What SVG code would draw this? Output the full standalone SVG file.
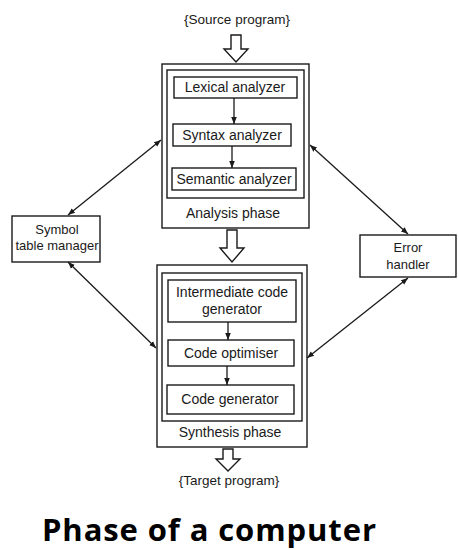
<svg xmlns="http://www.w3.org/2000/svg" width="459" height="550" viewBox="0 0 459 550">
<defs>
<marker id="ah" viewBox="0 0 10 10" refX="10" refY="5" markerWidth="7" markerHeight="7" orient="auto-start-reverse" markerUnits="userSpaceOnUse">
<path d="M0,1 L10,5 L0,9 z" fill="#1a1a1a"/>
</marker>
</defs>
<style>
.b{fill:none;stroke:#1a1a1a;stroke-width:1.4}
.t{font-family:"Liberation Sans",Arial,sans-serif;font-size:14px;fill:#1a1a1a;text-anchor:middle}
.s{font-size:13px}
.c{fill:none;stroke:#1a1a1a;stroke-width:1.3}
.h{fill:#fff;stroke:#1a1a1a;stroke-width:1.4;stroke-linejoin:miter}
</style>
<rect width="459" height="550" fill="#fff"/>
<text class="t" x="237" y="24" style="font-size:13.5px">{Source program}</text>
<text class="t" x="229" y="485" style="font-size:13.5px">{Target program}</text>
<g id="analysis">
<rect class="b" x="162" y="64" width="147" height="164"/>
<rect class="b" x="167" y="70" width="137" height="128"/>
<text class="t" x="233" y="218">Analysis phase</text>
</g>
<g id="lexical"><rect class="b" x="174" y="77" width="123" height="21"/><text class="t" x="235" y="92">Lexical analyzer</text></g>
<g id="syntax"><rect class="b" x="173" y="124" width="118" height="22"/><text class="t" x="232" y="140">Syntax analyzer</text></g>
<g id="semantic"><rect class="b" x="172" y="168" width="124" height="22"/><text class="t" x="234" y="184">Semantic analyzer</text></g>
<g id="synthesis">
<rect class="b" x="157" y="265" width="150" height="182"/>
<rect class="b" x="162" y="273" width="140" height="148"/>
<text class="t" x="230" y="437">Synthesis phase</text>
</g>
<g id="intermediate"><rect class="b" x="168" y="280" width="128" height="42"/><text class="t" x="232" y="297">Intermediate code</text><text class="t" x="232" y="314">generator</text></g>
<g id="optimiser"><rect class="b" x="168" y="340" width="126" height="26"/><text class="t" x="231" y="358">Code optimiser</text></g>
<g id="generator"><rect class="b" x="167" y="385" width="127" height="29"/><text class="t" x="230" y="404">Code generator</text></g>
<g id="symbol"><rect class="b" x="12" y="216" width="88" height="46"/><text class="t s" x="57" y="234">Symbol</text><text class="t s" x="57" y="250">table manager</text></g>
<g id="error"><rect class="b" x="360" y="235" width="96" height="42"/><text class="t s" x="408" y="252">Error</text><text class="t s" x="408" y="269">handler</text></g>
<g id="connectors">
<path class="h" d="M231,35 h10 v14 h7 l-12,13 l-12,-13 h7 z"/>
<path class="h" d="M227,230 h10 v18 h7 l-12,14 l-12,-14 h7 z"/>
<path class="h" d="M223,449 h10 v10 h7 l-12,12 l-12,-12 h7 z"/>
<line class="c" x1="234" y1="98" x2="234" y2="124" marker-end="url(#ah)"/>
<line class="c" x1="232" y1="146" x2="232" y2="168" marker-end="url(#ah)"/>
<line class="c" x1="228" y1="322" x2="228" y2="340" marker-end="url(#ah)"/>
<line class="c" x1="227" y1="366" x2="227" y2="385" marker-end="url(#ah)"/>
<line class="c" x1="68" y1="215" x2="161" y2="140" marker-start="url(#ah)" marker-end="url(#ah)"/>
<line class="c" x1="68" y1="262" x2="156" y2="348" marker-start="url(#ah)" marker-end="url(#ah)"/>
<line class="c" x1="310" y1="145" x2="408" y2="234" marker-start="url(#ah)" marker-end="url(#ah)"/>
<line class="c" x1="408" y1="278" x2="307" y2="358" marker-start="url(#ah)" marker-end="url(#ah)"/>
</g>
<text x="42" y="541" style="font-family:'Open Sans','Noto Sans',sans-serif;font-weight:bold;font-size:31px;letter-spacing:0.9px;fill:#000">Phase of a computer</text>
</svg>
